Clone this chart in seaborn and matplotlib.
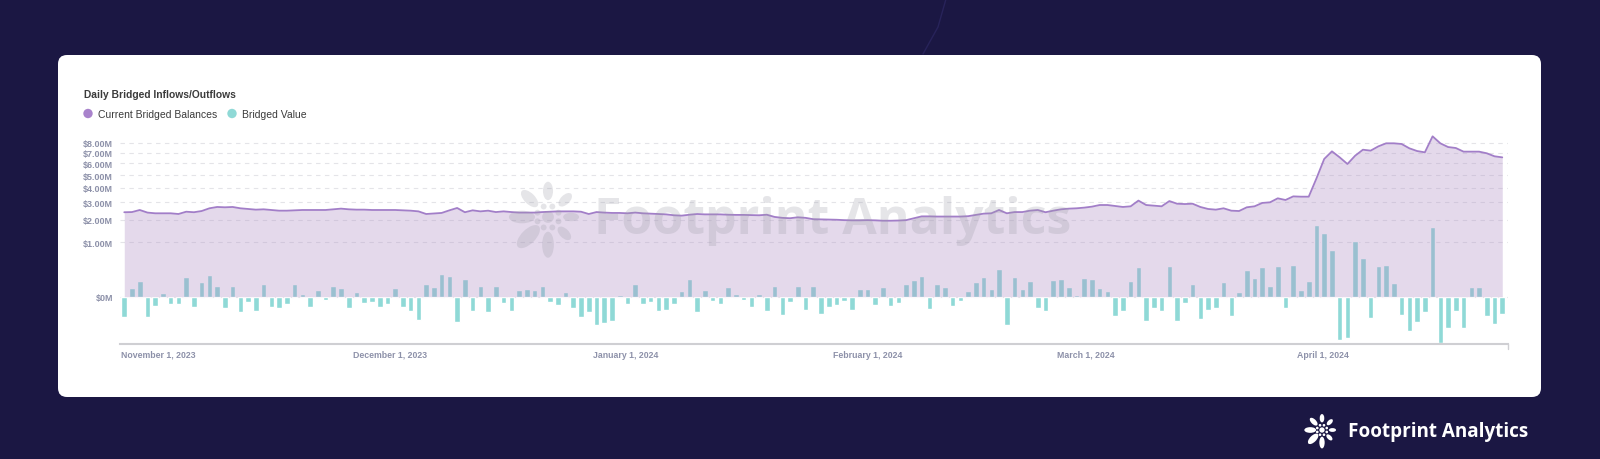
import numpy as np
import pandas as pd
import matplotlib
matplotlib.use('Agg')
import matplotlib.pyplot as plt
import matplotlib.transforms as mtrans
import seaborn as sns
from matplotlib.patches import FancyBboxPatch, Circle, Ellipse
from matplotlib.lines import Line2D

# Dados
data_inicio = '2023-11-01'

# Current Bridged Balances (milhoes de USD), um valor por dia
saldo_nov = [2.41, 2.42, 2.54, 2.39, 2.35, 2.35, 2.35, 2.31, 2.44, 2.41, 2.48, 2.64, 2.72, 2.70, 2.72,
             2.64, 2.60, 2.56, 2.58, 2.54, 2.50, 2.50, 2.52, 2.54, 2.54, 2.54, 2.54, 2.58, 2.62, 2.58]
saldo_dez = [2.56, 2.56, 2.54, 2.54, 2.54, 2.54, 2.52, 2.50, 2.46, 2.31, 2.34, 2.37, 2.52, 2.66, 2.41,
             2.52, 2.46, 2.50, 2.42, 2.46, 2.42, 2.39, 2.39, 2.39, 2.42, 2.44, 2.46, 2.46, 2.46, 2.44]
saldo_jan = [2.31, 2.42, 2.39, 2.37, 2.37, 2.35, 2.39, 2.35, 2.33, 2.31, 2.29, 2.24, 2.22, 2.27, 2.31,
             2.29, 2.29, 2.29, 2.27, 2.26, 2.26, 2.25, 2.24, 2.27, 2.15, 2.10, 2.08, 2.13, 2.10]
saldo_fev = [2.03, 2.02, 2.01, 2.00, 1.98, 1.97, 1.97, 1.98, 1.97, 1.95, 1.95, 1.96, 1.98, 2.08, 2.18,
             2.18, 2.17, 2.17, 2.17, 2.17, 2.19, 2.26, 2.33, 2.35, 2.54, 2.35, 2.42, 2.42, 2.50, 2.54]
saldo_mar_abr = [2.41, 2.50, 2.58, 2.62, 2.64, 2.68, 2.74, 2.84, 2.84, 2.78, 2.72, 2.76, 3.12, 2.84, 2.80,
                 2.76, 3.09, 2.92, 2.90, 2.92, 2.72, 2.60, 2.56, 2.64, 2.50, 2.48, 2.70, 2.76, 2.97, 3.01,
                 3.27, 3.16, 3.40, 3.38, 3.38, 4.73, 6.41, 7.14, 6.56, 5.95, 6.72, 7.30, 7.21, 7.64, 7.95,
                 7.95, 7.88, 7.44, 7.17, 7.04, 8.69, 7.95, 7.57, 7.47, 7.11, 7.11, 7.11, 6.95, 6.66, 6.56]

# Bridged Value (milhares de USD), entradas positivas / saidas negativas
fluxo_nov = [-144, 27, 87, -144, -27, 5, -17, -20, 135, -36, 73, 159, 38, -46, 38,
             -79, -10, -69, 57, -36, -41, -17, 51, 2, -36, 17, -4, 38, 27, -41]
fluxo_dez = [7, -14, -10, -36, -17, 23, -36, -73, -179, 57, 29, 179, 140, -211, 102,
             -73, 38, -79, 38, -14, -73, 17, 20, 14, 38, -11, -22, 7, -41]
fluxo_jan_fev = [-135, -76, -265, -234, -206, 1, -17, 51, -17, -8, -69, -63, -17, 10, 109, -76,
                 17, -7, -20, 29, 2, -3, -36, 3, -66, 41, -109, -10, 41, -57, 41, -102,
                 -38, -23, -5, -57, 18, 18, -22, 29, -27, -14, 51, 94, 149, -51, 51, 29,
                 -27, -5, 10, 69, 126, 18, 259, -265, 126, 18, 79, -46, -66, 94, 109, 34]
fluxo_mar_abr = [1, 118, 102, 25, 12, -122, -73, 87, 297, -206, -46, -66, 311, -195, -14, 54,
                 -169, -60, -43, 73, -122, 8, 240, 118, 291, 41, 325, -46, 339, 15, 87, 1736,
                 1355, 747, -635, -568, 1035, 505, -149, 311, 339, 63, -109, -406, -223, -83,
                 1656, -736, -332, -73, -332, 29, 29, -122, -253, -102]

meses = ['2023-11-01', '2023-12-01', '2024-01-01', '2024-02-01', '2024-03-01', '2024-04-01']
rotulos_meses = ['November 1, 2023', 'December 1, 2023', 'January 1, 2024',
                 'February 1, 2024', 'March 1, 2024', 'April 1, 2024']
ticks_y = [0, 1, 2, 3, 4, 5, 6, 7, 8]
rotulos_y = ['$0M', '$1.00M', '$2.00M', '$3.00M', '$4.00M', '$5.00M', '$6.00M', '$7.00M', '$8.00M']

saldo = saldo_nov + saldo_dez + saldo_jan + saldo_fev + saldo_mar_abr
fluxo = fluxo_nov + fluxo_dez + fluxo_jan_fev + fluxo_mar_abr
dias = pd.date_range(data_inicio, periods=len(saldo))
df = pd.DataFrame({'dia': np.arange(len(dias)), 'saldo': saldo, 'fluxo': np.array(fluxo) / 1000.0})
pos_meses = [(pd.Timestamp(m) - dias[0]).days for m in meses]

# Cores
fundo = '#1b1743'
roxo_linha = '#a27ec8'
roxo_area = '#b292c7'
verde_agua = '#8fd9d6'
cinza_eixo = '#8d91a9'

sns.set_theme(style='white')
plt.rcParams['font.family'] = ['Liberation Sans', 'DejaVu Sans']

fig = plt.figure(figsize=(16, 4.6), dpi=100, facecolor=fundo)

# linha suave do fundo (topo)
fig.add_artist(Line2D([946, 938, 923], [460, 432, 405], transform=None, color='#28235a', lw=1.0))

# cartao branco
cartao = FancyBboxPatch((58, 460 - 398), 1483, 342, boxstyle='round,pad=0,rounding_size=9',
                        transform=None, facecolor='white', edgecolor='none', zorder=0)
fig.add_artist(cartao)

# titulo e legenda
fig.text(84 / 1600, 1 - 95.5 / 460, 'Daily Bridged Inflows/Outflows', fontsize=7.4,
         fontweight='bold', color='#3b3b3b', va='center')
fig.add_artist(Circle((88, 460 - 114.5), 4.7, transform=None, facecolor='#a983cc', edgecolor='none'))
fig.add_artist(Circle((232, 460 - 114.5), 4.7, transform=None, facecolor=verde_agua, edgecolor='none'))
fig.text(98 / 1600, 1 - 115.5 / 460, 'Current Bridged Balances', fontsize=7.5, color='#3b3b3b', va='center')
fig.text(242 / 1600, 1 - 115.5 / 460, 'Bridged Value', fontsize=7.5, color='#3b3b3b', va='center')

# grafico principal
ax = fig.add_axes([120 / 1600, 1 - 345 / 460, (1508 - 120) / 1600, (345 - 134.5) / 460])
ax.set_facecolor('none')

sns.barplot(data=df, x='dia', y='fluxo', native_scale=True, color=verde_agua, saturation=1,
            width=0.72, errorbar=None, ax=ax, zorder=1)
ax.fill_between(df['dia'], 0, df['saldo'], color=roxo_area, alpha=0.34, lw=0, zorder=2)
sns.lineplot(data=df, x='dia', y='saldo', color=roxo_linha, lw=1.3, ax=ax, zorder=3)


def raiz(v):
    return np.sign(v) * np.sqrt(np.abs(v))


def quadrado(v):
    return np.sign(v) * v ** 2


ax.set_yscale('function', functions=(raiz, quadrado))
ax.set_ylim(-0.757, 9.0)
ax.set_xlim(-0.55, len(saldo) - 1 + 0.74)

ax.set_yticks(ticks_y)
ax.set_yticklabels(rotulos_y, fontsize=6.5, color=cinza_eixo, fontweight='semibold')
ax.set_xticks(pos_meses)
ax.set_xticklabels(rotulos_meses, fontsize=6.3, color=cinza_eixo, fontweight='semibold', ha='left')
ax.tick_params(axis='y', length=0, pad=5)
ax.tick_params(axis='x', length=0, pad=4)
# rotulos do eixo x comecam um pouco antes da data
desloc = mtrans.ScaledTranslation(-3.6 / 100, 0, fig.dpi_scale_trans)
for lab in ax.get_xticklabels():
    lab.set_transform(lab.get_transform() + desloc)

ax.yaxis.grid(True, linestyle=(0, (4, 4)), color='#e4e4e8', lw=0.8, zorder=0)
ax.xaxis.grid(False)
ax.set_axisbelow(True)
ax.set_xlabel('')
ax.set_ylabel('')
for lado in ['top', 'right', 'left']:
    ax.spines[lado].set_visible(False)
ax.spines['bottom'].set_color('#cfcfd3')
ax.spines['bottom'].set_linewidth(1.5)
ax.spines['bottom'].set_zorder(4)
# pequeno traco no fim do eixo x
fig.add_artist(Line2D([1507.5, 1507.5], [460 - 345, 460 - 350], transform=None, color='#cfcfd3', lw=1))


# logo (flor) do Footprint
def desenha_logo(cx, cy, tam, cor, alpha):
    lg = fig.add_axes([(cx - tam) / 1600, (460 - cy - tam) / 460, 2 * tam / 1600, 2 * tam / 460],
                      zorder=6)
    lg.set_xlim(-1, 1)
    lg.set_ylim(-1, 1)
    lg.axis('off')
    petalas = [(180, 0.62, 0.62, 0.30), (225, 0.66, 0.70, 0.34), (270, 0.66, 0.62, 0.28),
               (315, 0.55, 0.40, 0.22), (0, 0.55, 0.38, 0.20), (45, 0.58, 0.40, 0.22),
               (90, 0.62, 0.44, 0.24), (135, 0.62, 0.52, 0.26)]
    for ang, dist, comp, larg in petalas:
        a = np.deg2rad(ang)
        lg.add_patch(Ellipse((dist * np.cos(a), dist * np.sin(a)), comp, larg, angle=ang,
                             facecolor=cor, edgecolor='none', alpha=alpha))
    for ang in range(0, 360, 45):
        a = np.deg2rad(ang + 22.5)
        lg.add_patch(Circle((0.27 * np.cos(a), 0.27 * np.sin(a)), 0.07, facecolor=cor,
                            edgecolor='none', alpha=alpha))
    lg.add_patch(Circle((0, 0), 0.14, facecolor=cor, edgecolor='none', alpha=alpha))


# marca d'agua
desenha_logo(548, 218, 42, '#9c9ca8', 0.26)
fig.text(594 / 1600, 1 - 221 / 460, 'Footprint Analytics', fontsize=36, fontweight='bold',
         family=['Open Sans', 'DejaVu Sans'], color='#9c9ca8', alpha=0.26, va='center', zorder=6)

# logo inferior direito
desenha_logo(1322, 431, 19, 'white', 1.0)
fig.text(1348 / 1600, 1 - 432 / 460, 'Footprint Analytics', fontsize=13.6, fontweight='bold',
         family=['Open Sans', 'DejaVu Sans'], color='white', va='center')

fig.savefig('out.png', dpi=100, facecolor=fundo)
